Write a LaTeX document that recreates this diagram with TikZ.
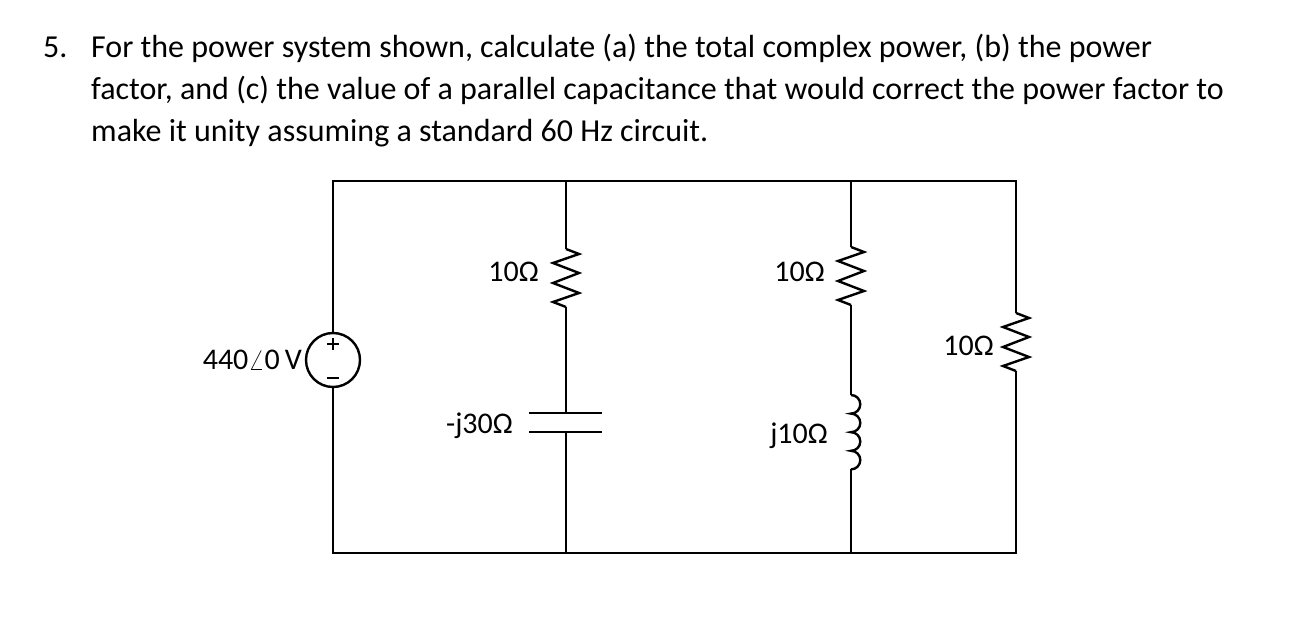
\documentclass[tikz,border=0pt]{standalone}
\usepackage{fontspec}
\setmainfont{Carlito}
\begin{document}
\begin{tikzpicture}[x=1pt,y=-1pt,line width=2.4pt,
  ttl/.style={anchor=base west,inner sep=0pt,font=\fontsize{32}{36}\selectfont},
  lbl/.style={inner sep=0pt,font=\fontsize{30}{34}\selectfont},
  res/.pic={\draw[line join=miter] (0,-29) -- (13,-24) -- (-13,-15) -- (13,-5) -- (-13,5) -- (13,15) -- (-13,24) -- (0,29);}]
\useasboundingbox (0,0) rectangle (1302,628);
\node[ttl] (n5) at (42,58) {5.};
\node[ttl] (l1) at (90,58) {For the power system shown, calculate (a) the total complex power, (b) the power};
\node[ttl] (l2) at (90,100) {factor, and (c) the value of a parallel capacitance that would correct the power factor to};
\node[ttl] (l3) at (90,142) {make it unity assuming a standard 60 Hz circuit.};
% wires
\draw (333,333) -- (333,181) -- (1016,181) -- (1016,313);
\draw (333,387) -- (333,553) -- (1016,553) -- (1016,371);
\draw (566,181) -- (566,249);
\draw (566,307) -- (566,413);
\draw (566,432) -- (566,553);
\draw (851,181) -- (851,247);
\draw (851,305) -- (851,395);
\draw (851,469) -- (851,553);
% resistors
\pic at (566,278) {res};
\pic at (851,276) {res};
\pic at (1016,342) {res};
% capacitor
\draw (529,413) -- (602,413);
\draw (529,432) -- (602,432);
% inductor
\draw (851,395) arc[start angle=-90,end angle=90,radius=9.3]
  arc[start angle=-90,end angle=90,radius=9.3]
  arc[start angle=-90,end angle=90,radius=9.3]
  arc[start angle=-90,end angle=90,radius=9.3];
% source
\draw (333,360) circle[radius=27];
\draw[line width=1.8pt] (327,344) -- (339,344) (333,338) -- (333,350);
\draw[line width=1.8pt] (327,378) -- (339,378);
% labels
\node[lbl,anchor=east] (vs) at (303,360) {440$\angle$0\,V};
\node[lbl,anchor=east] (r1) at (540,272) {10Ω};
\node[lbl,anchor=east] (r2) at (826,272) {10Ω};
\node[lbl,anchor=east] (r3) at (995,346) {10Ω};
\node[lbl,anchor=east] (c1) at (514,426) {-j30Ω};
\node[lbl,anchor=east] (l1x) at (829,436) {j10Ω};
\end{tikzpicture}
\end{document}
